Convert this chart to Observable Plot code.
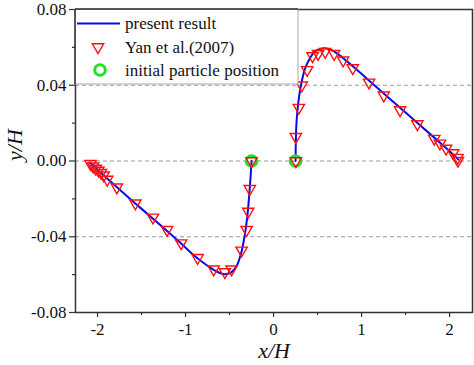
<!DOCTYPE html>
<html><head><meta charset="utf-8">
<style>
body{margin:0;background:#fff;overflow:hidden;}
#wrap{position:relative;width:474px;height:365px;}
#legend{position:absolute;left:0;top:0;}
</style>
<script src="https://cdn.jsdelivr.net/npm/d3@7"></script>
<script src="https://cdn.jsdelivr.net/npm/@observablehq/plot@0.6"></script>
</head><body>
<div id="wrap"></div>
<script>
// present result (blue line), two segments
const lineX = [-2.09,-1.9,-1.6,-1.3,-1.05,-0.9,-0.75,-0.65,-0.56,-0.48,-0.42,-0.37,-0.33,-0.30,-0.28,-0.262,-0.25,
               0.25,0.252,0.258,0.27,0.29,0.32,0.36,0.41,0.47,0.53,0.58,0.65,0.75,0.9,1.2,1.5,1.8,2.0,2.1];
const lineY = [-0.0008,-0.0088,-0.0212,-0.0333,-0.0436,-0.0500,-0.0553,-0.0583,-0.0598,-0.0588,-0.0555,-0.0490,-0.0400,-0.0300,-0.0200,-0.0090,0.0,
               0.0,0.008,0.018,0.026,0.034,0.042,0.049,0.054,0.0578,0.0592,0.0595,0.0588,0.0558,0.0500,0.0378,0.0256,0.0134,0.0052,0.0008];
const lineSeg = [1,1,1,1,1,1,1,1,1,1,1,1,1,1,1,1,1,
                 2,2,2,2,2,2,2,2,2,2,2,2,2,2,2,2,2,2,2];
// Yan et al.(2007) triangles
const yanX = [-2.08,-2.05,-2.02,-1.99,-1.96,-1.93,-1.89,-1.78,-1.57,-1.37,-1.21,-1.05,-0.863,-0.68,-0.553,-0.477,-0.363,-0.306,-0.288,-0.27,-0.25,
              0.253,0.253,0.287,0.32,0.382,0.443,0.506,0.586,0.688,0.79,0.90,1.085,1.252,1.437,1.634,1.826,1.89,1.96,2.04,2.09,2.095];
const yanY = [-0.0015,-0.0028,-0.0040,-0.0050,-0.0062,-0.0075,-0.0098,-0.0139,-0.0223,-0.0298,-0.0363,-0.0434,-0.0511,-0.0572,-0.0586,-0.0572,-0.0472,-0.0363,-0.0267,-0.0147,0.0,
              0.0,0.0128,0.0282,0.0400,0.0481,0.0554,0.0566,0.0577,0.0566,0.0532,0.0491,0.0415,0.0347,0.0269,0.0195,0.0118,0.0093,0.0066,0.0042,0.0018,0.0002];
// initial particle position
const initX = [-0.25, 0.25];
const initY = [0.0, 0.0];
// ticks and grid
const xTicks = [-2,-1,0,1,2];
const xMinor = [-1.5,-0.5,0.5,1.5];
const yTicks = [-0.08,-0.04,0,0.04,0.08];
const yMinor = [-0.06,-0.02,0.02,0.06];
const gridY = [-0.04,0,0.04];
const legendLabels = ["present result","Yan et al.(2007)","initial particle position"];

const lineData = lineX.map((x,i)=>({x, y: lineY[i], s: lineSeg[i]}));
const yanData = yanX.map((x,i)=>({x, y: yanY[i]}));
const initData = initX.map((x,i)=>({x, y: initY[i]}));

const BLUE = "#0a0ae6", RED = "#ff1010", GREEN = "#22e022";
const FONT = "Liberation Serif, Times New Roman, DejaVu Serif, serif";

const plot = Plot.plot({
  width: 474, height: 365,
  marginLeft: 75, marginRight: 2, marginTop: 9, marginBottom: 53,
  style: {fontFamily: FONT, fontSize: "17px", color: "#111", background: "#fff"},
  x: {domain: [-2.25, 2.26]},
  y: {domain: [-0.08, 0.08]},
  marks: [
    Plot.ruleY(gridY, {stroke: "#999", strokeDasharray: "4,3", strokeWidth: 1}),
    Plot.line(lineData, {x: "x", y: "y", z: "s", stroke: BLUE, strokeWidth: 2, curve: "catmull-rom"}),
    Plot.dot(initData, {x: "x", y: "y", r: 5.3, stroke: GREEN, strokeWidth: 3, fill: "none"}),
    Plot.dot(yanData, {x: "x", y: "y", symbol: "triangle", rotate: 180, r: 4.2, stroke: RED, strokeWidth: 1.4, fill: "none"}),
    Plot.axisX({ticks: xTicks, tickFormat: d => String(d), tickSize: 5, tickPadding: 5, fontSize: 17, fontFamily: FONT, stroke: "#333", strokeWidth: 1.2, label: null}),
    Plot.axisX({ticks: xMinor, tickSize: 3, text: null, stroke: "#333", strokeWidth: 1.2, label: null}),
    Plot.axisY({ticks: yTicks, tickFormat: d => d.toFixed(2), tickSize: 6, tickPadding: 3, fontSize: 17, fontFamily: FONT, stroke: "#333", strokeWidth: 1.2, label: null}),
    Plot.axisY({ticks: yMinor, tickSize: 3, text: null, stroke: "#333", strokeWidth: 1.2, label: null}),
    Plot.frame({stroke: "#333", strokeWidth: 1.5}),
    Plot.text(["x/H"], {frameAnchor: "bottom", dy: 45, fontStyle: "italic", fontSize: 22, fontFamily: FONT, fill: "#111"}),
    Plot.text(["y/H"], {frameAnchor: "left", dx: -61, rotate: -90, fontStyle: "italic", fontSize: 22, fontFamily: FONT, fill: "#111"})
  ]
});
const wrap = document.getElementById("wrap");
wrap.appendChild(plot);
d3.select(plot).selectAll("text").attr("font-family", FONT).style("font-family", FONT);

// legend overlay
const lg = d3.select(wrap).append("svg").attr("id","legend").attr("width",474).attr("height",365);
lg.append("rect").attr("x",75.5).attr("y",9.5).attr("width",222.5).attr("height",74.5)
  .attr("fill","#fff").attr("stroke","#aaa").attr("stroke-width",1);
const rowY = [23.5, 47, 70];
lg.append("line").attr("x1",77).attr("x2",120).attr("y1",rowY[0]).attr("y2",rowY[0]).attr("stroke",BLUE).attr("stroke-width",2);
lg.append("path").attr("d", d3.symbol(d3.symbolTriangle, Math.PI*4.2*4.2)()).attr("transform",`translate(98,${rowY[1]}) rotate(180)`)
  .attr("fill","none").attr("stroke",RED).attr("stroke-width",1.4);
lg.append("circle").attr("cx",100).attr("cy",rowY[2]).attr("r",5.3).attr("fill","none").attr("stroke",GREEN).attr("stroke-width",3);
legendLabels.forEach((t,i)=>{
  lg.append("text").attr("x",125).attr("y",rowY[i]).attr("dy","0.35em").attr("fill","#111")
    .attr("font-family",FONT).attr("font-size",17).style("font-family",FONT).style("font-size","17px").text(t);
});
lg.append("line").attr("x1",75).attr("x2",298).attr("y1",9).attr("y2",9).attr("stroke","#333").attr("stroke-width",1.5);
lg.append("line").attr("x1",75).attr("x2",75).attr("y1",9).attr("y2",84).attr("stroke","#333").attr("stroke-width",1.5);
</script>
</body></html>
